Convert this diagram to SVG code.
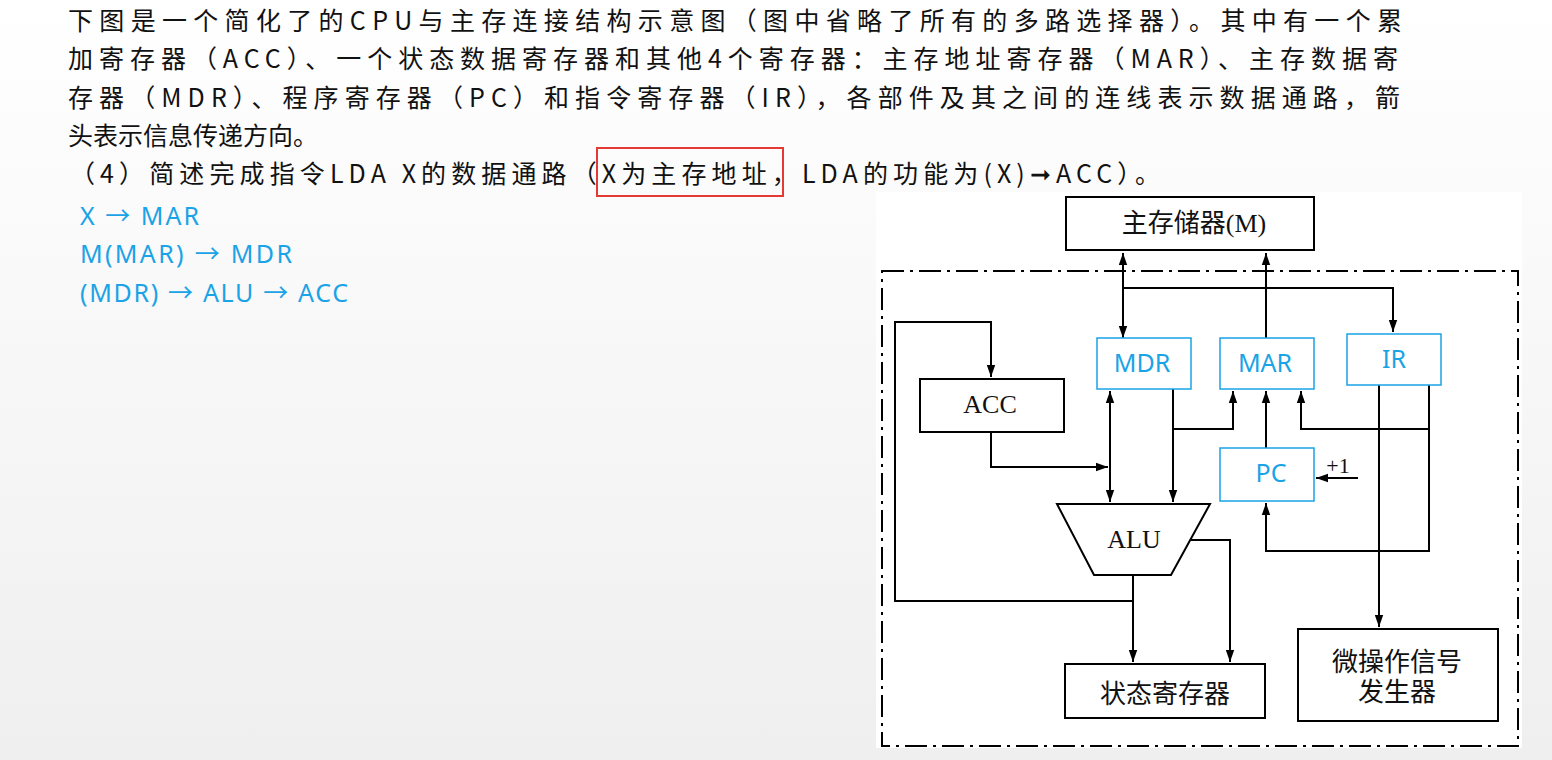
<svg xmlns="http://www.w3.org/2000/svg" width="1552" height="760" viewBox="0 0 1552 760">
<defs>
<linearGradient id="bg" x1="0" y1="0" x2="0" y2="1"><stop offset="0" stop-color="#ffffff"/><stop offset="1" stop-color="#efefef"/></linearGradient>
<marker id="ah" viewBox="0 0 10 10" refX="10" refY="5" markerWidth="12" markerHeight="12" markerUnits="userSpaceOnUse" orient="auto-start-reverse"><path d="M0,1.5 L10,5 L0,8.5 Z" fill="#000"/></marker>
<style>
.q{font-family:"Noto Sans CJK SC","Noto Sans",sans-serif;font-size:25px;fill:#111}
.a{font-family:"Noto Sans","Noto Sans CJK SC",sans-serif;font-size:25px;fill:#1aa3e6}
.b{fill:#fff;stroke:#000;stroke-width:2}
.bb{fill:#fff;stroke:#1aa3e6;stroke-width:1.5}
.t{font-family:"Liberation Serif","Noto Sans CJK SC",serif;font-size:26px;fill:#111;text-anchor:middle}
.bt{font-family:"Noto Sans",sans-serif;font-size:25px;fill:#1aa3e6;text-anchor:middle}
.c path{fill:none;stroke:#000;stroke-width:2}
</style>
</defs>
<rect width="1552" height="760" fill="url(#bg)"/>
<g id="question">
<text class="q" x="68" y="30" textLength="1334">下图是一个简化了的CPU与主存连接结构示意图（图中省略了所有的多路选择器）。其中有一个累</text>
<text class="q" x="68" y="68" textLength="1330">加寄存器（ACC）、一个状态数据寄存器和其他4个寄存器：主存地址寄存器（MAR）、主存数据寄</text>
<text class="q" x="68" y="107" textLength="1332">存器（MDR）、程序寄存器（PC）和指令寄存器（IR），各部件及其之间的连线表示数据通路，箭</text>
<text class="q" x="68" y="145">头表示信息传递方向。</text>
<text class="q" x="70" y="183" textLength="1090">（4）简述完成指令LDA X的数据通路（X为主存地址，LDA的功能为(X)➞ACC）。</text>
<rect x="597" y="148" width="186" height="48" fill="none" stroke="#e53935" stroke-width="2"/>
</g>
<g id="answer">
<text class="a" x="80" y="225" textLength="119">X → MAR</text>
<text class="a" x="80" y="263" textLength="212">M(MAR) → MDR</text>
<text class="a" x="80" y="302" textLength="268">(MDR) → ALU → ACC</text>
</g>
<rect x="876" y="192" width="646" height="556" fill="#fff"/>
<rect id="cpu" x="882" y="271" width="636" height="475" fill="none" stroke="#000" stroke-width="2" stroke-dasharray="22,6,3,6"/>
<g class="c" id="connectors">
<path d="M1123,338 V253" marker-start="url(#ah)" marker-end="url(#ah)"/>
<path d="M1266,338 V253" marker-end="url(#ah)"/>
<path d="M1123,288 H1393 V332" marker-end="url(#ah)"/>
<path d="M1110,502 V391" marker-start="url(#ah)" marker-end="url(#ah)"/>
<path d="M1173,389 V502" marker-end="url(#ah)"/>
<path d="M1173,429 H1233 V391" marker-end="url(#ah)"/>
<path d="M1266,448 V391" marker-end="url(#ah)"/>
<path d="M1429,385 V429 H1301 V391" marker-end="url(#ah)"/>
<path d="M1429,429 V551 H1266 V503" marker-end="url(#ah)"/>
<path d="M1379,385 V627" marker-end="url(#ah)"/>
<path d="M1358,478 H1316" marker-end="url(#ah)"/>
<path d="M991,432 V467 H1108" marker-end="url(#ah)"/>
<path d="M1133,575 V662" marker-end="url(#ah)"/>
<path d="M1191,540 H1230 V662" marker-end="url(#ah)"/>
<path d="M1133,601 H895 V322 H991 V377" marker-end="url(#ah)"/>
</g>
<g id="memory"><rect class="b" x="1066" y="197" width="248" height="53"/><text class="t" x="1194" y="232">主存储器(M)</text></g>
<g id="mdr"><rect class="bb" x="1097" y="338" width="94" height="51"/><text class="bt" x="1142" y="372">MDR</text></g>
<g id="mar"><rect class="bb" x="1220" y="338" width="94" height="51"/><text class="bt" x="1265" y="372">MAR</text></g>
<g id="ir"><rect class="bb" x="1347" y="334" width="94" height="51"/><text class="bt" x="1394" y="368">IR</text></g>
<g id="acc"><rect class="b" x="920" y="379" width="144" height="53"/><text class="t" x="990" y="413">ACC</text></g>
<g id="pc"><rect class="bb" x="1220" y="448" width="94" height="53"/><text class="bt" x="1271" y="482">PC</text><text class="t" x="1338" y="473" style="font-size:22px">+1</text></g>
<g id="alu"><path d="M1057,504 H1210 L1171,575 H1094 Z" fill="#fff" stroke="#000" stroke-width="2"/><text class="t" x="1134" y="548">ALU</text></g>
<g id="status"><rect class="b" x="1065" y="664" width="200" height="54"/><text class="t" x="1165" y="703">状态寄存器</text></g>
<g id="micro"><rect class="b" x="1298" y="629" width="200" height="92"/><text class="t" x="1397" y="671">微操作信号</text><text class="t" x="1397" y="701">发生器</text></g>
</svg>
